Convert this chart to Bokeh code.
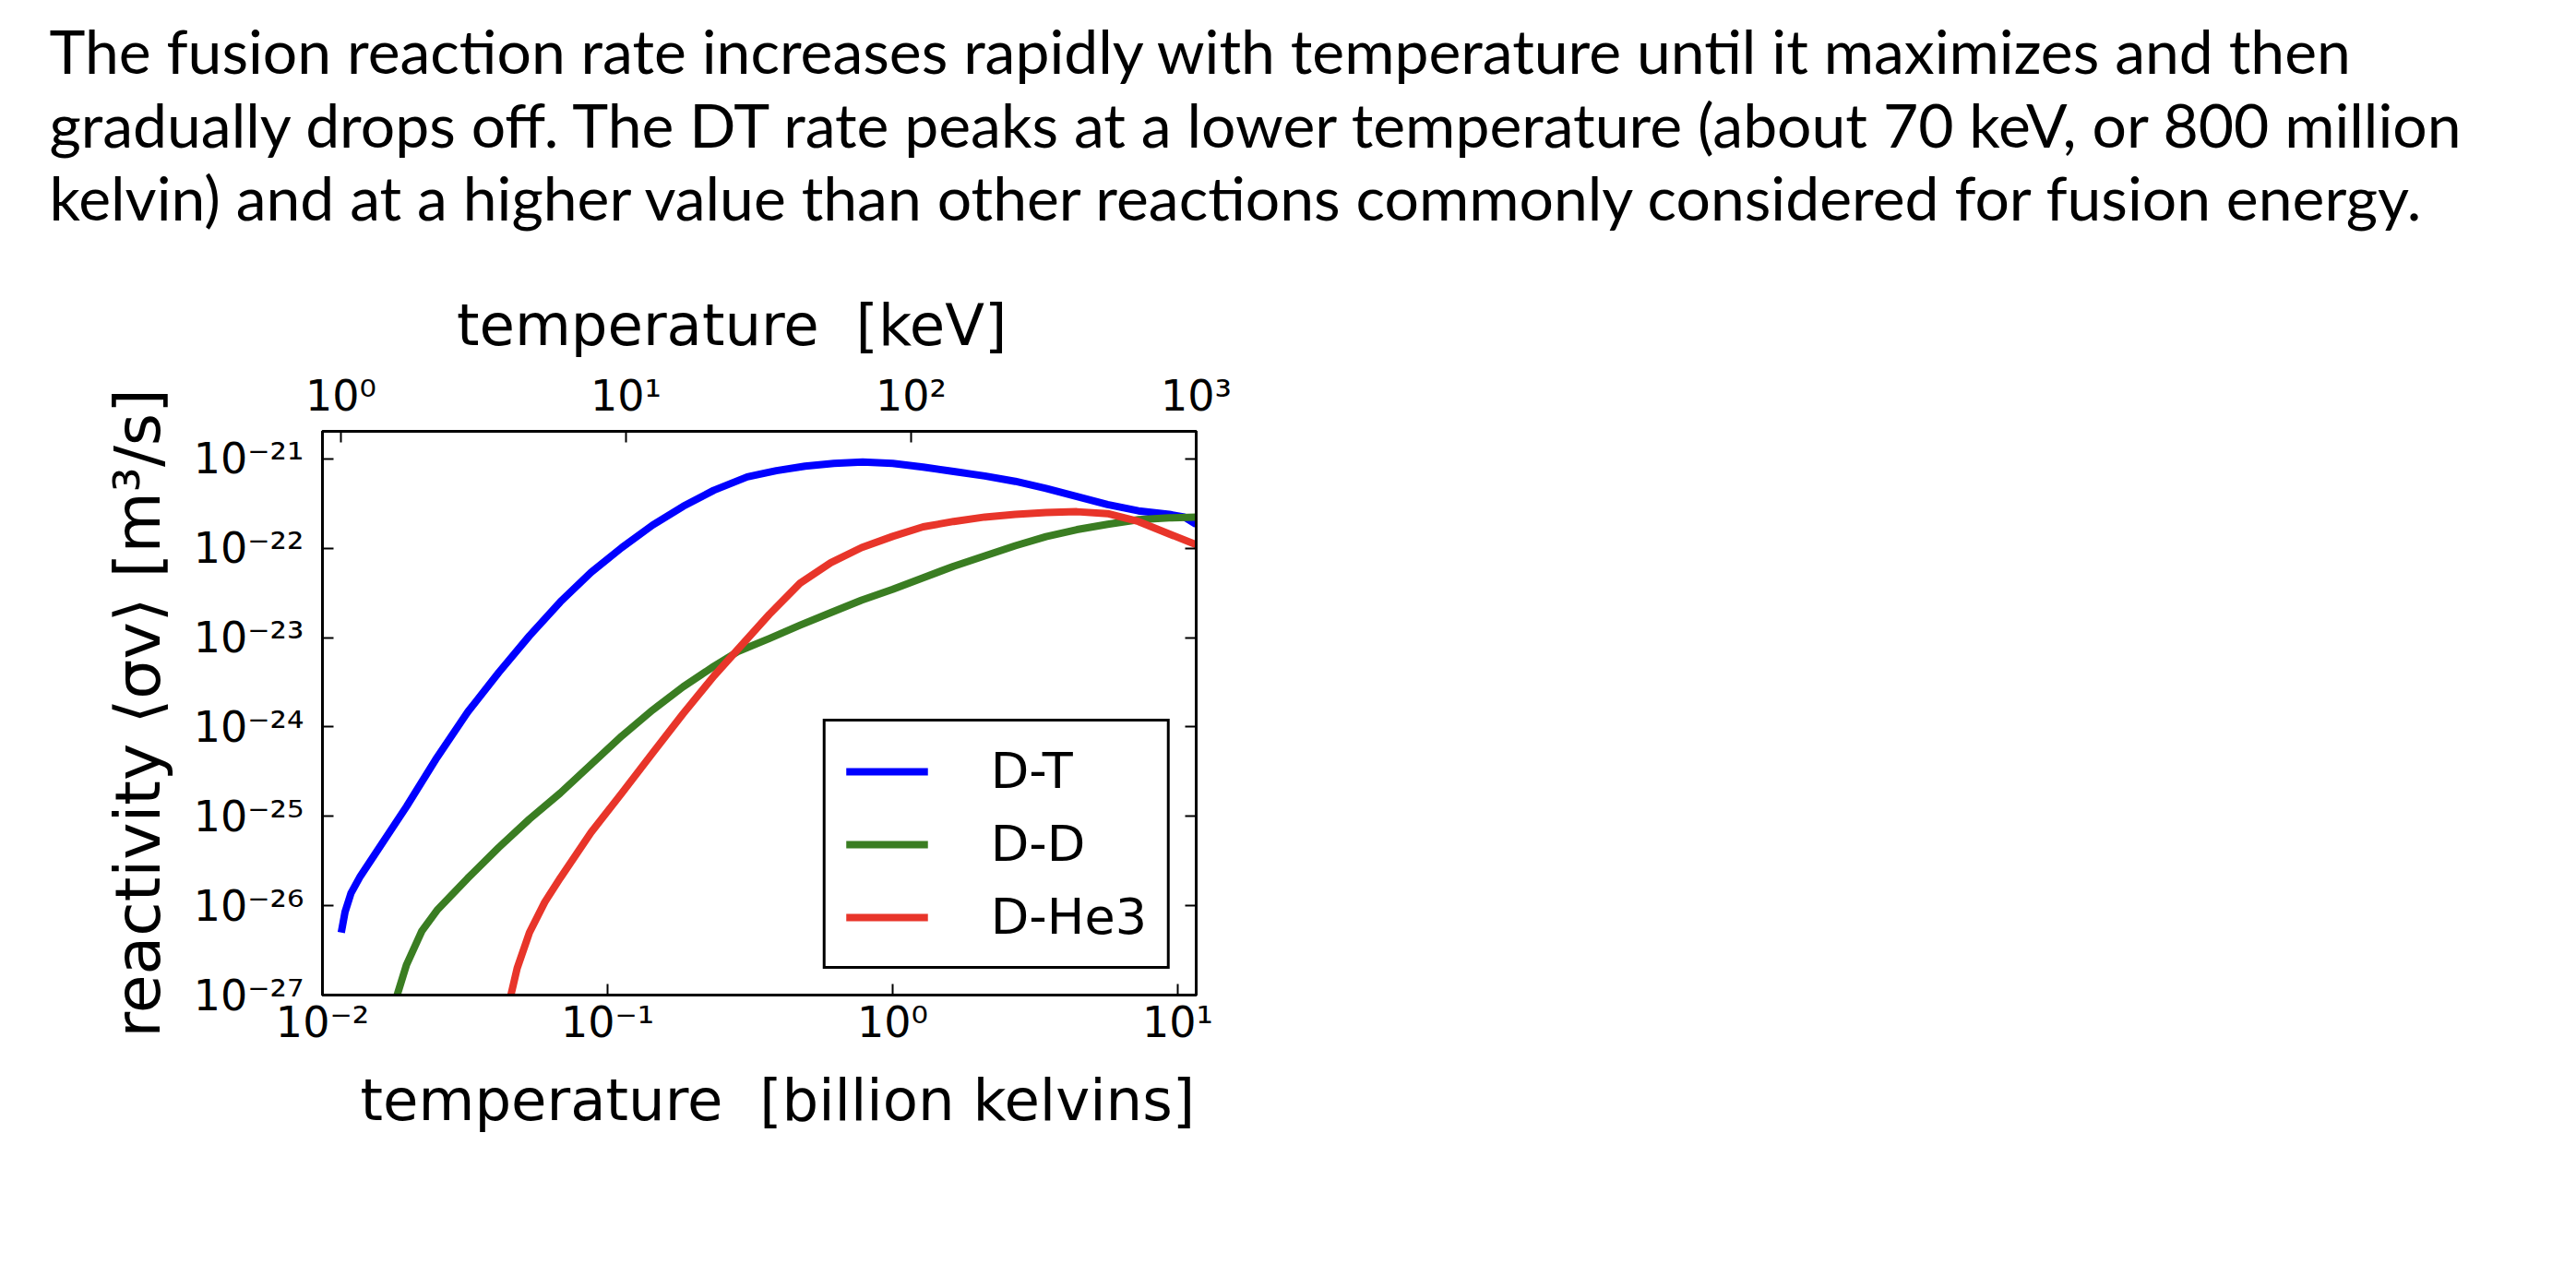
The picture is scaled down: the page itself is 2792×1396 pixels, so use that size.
from bokeh.plotting import figure
from bokeh.models import Range1d, LogAxis, FixedTicker, Legend, LegendItem, LogScale, Title
from bokeh.embed import file_html
from bokeh.resources import INLINE

# ---------------- data ----------------
caption_lines = [
    "The fusion reaction rate increases rapidly with temperature until it maximizes and then",
    "gradually drops off. The DT rate peaks at a lower temperature (about 70 keV, or 800 million",
    "kelvin) and at a higher value than other reactions commonly considered for fusion energy.",
]

series_names = ["D-T", "D-D", "D-He3"]

# temperature in billion kelvins, reactivity in m^3/s
temp_dt = [0.01164, 0.0120, 0.01259, 0.01358, 0.01538, 0.01972, 0.02523, 0.03236, 0.04150,
           0.05321, 0.06823, 0.08750, 0.1122, 0.1439, 0.1841, 0.2360, 0.309, 0.391, 0.493,
           0.622, 0.785, 1.0, 1.279, 1.637, 2.104, 2.692, 3.451, 4.426, 5.675, 7.278, 9.333,
           10.54, 11.6]
sv_dt = [5.0e-27, 8.5e-27, 1.38e-26, 2.14e-26, 3.89e-26, 1.29e-25, 4.57e-25, 1.48e-24, 4.07e-24,
         1.05e-23, 2.51e-23, 5.37e-23, 1.02e-22, 1.82e-22, 2.95e-22, 4.47e-22, 6.31e-22, 7.41e-22,
         8.32e-22, 8.91e-22, 9.23e-22, 8.91e-22, 8.13e-22, 7.24e-22, 6.46e-22, 5.62e-22, 4.68e-22,
         3.80e-22, 3.09e-22, 2.63e-22, 2.40e-22, 2.24e-22, 1.86e-22]

temp_dd = [0.01828, 0.01972, 0.02234, 0.02523, 0.03236, 0.0415, 0.05321, 0.06823, 0.0875,
           0.1122, 0.1439, 0.1841, 0.236, 0.2884, 0.369, 0.4732, 0.6067, 0.778, 1.0, 1.279,
           1.637, 2.104, 2.692, 3.451, 4.426, 5.675, 7.278, 9.333, 11.6]
sv_dd = [1.0e-27, 2.19e-27, 5.25e-27, 8.91e-27, 2.04e-26, 4.47e-26, 9.33e-26, 1.82e-25, 3.80e-25,
         7.94e-25, 1.55e-24, 2.82e-24, 4.79e-24, 7.08e-24, 9.77e-24, 1.38e-23, 1.91e-23, 2.63e-23,
         3.47e-23, 4.68e-23, 6.31e-23, 8.22e-23, 1.07e-22, 1.35e-22, 1.62e-22, 1.86e-22, 2.09e-22,
         2.19e-22, 2.24e-22]

temp_dhe3 = [0.04581, 0.04819, 0.05321, 0.06026, 0.06823, 0.0875, 0.1122, 0.1439, 0.1841, 0.236,
             0.2884, 0.369, 0.4732, 0.6067, 0.778, 1.0, 1.279, 1.637, 2.104, 2.692, 3.451, 4.426,
             5.675, 7.278, 9.333, 11.6]
sv_dhe3 = [1.0e-27, 2.0e-27, 5.0e-27, 1.10e-26, 2.04e-26, 6.61e-26, 1.82e-25, 5.13e-25, 1.41e-24,
           3.72e-24, 7.59e-24, 1.82e-23, 4.07e-23, 6.92e-23, 1.02e-22, 1.36e-22, 1.74e-22, 2.0e-22,
           2.24e-22, 2.40e-22, 2.51e-22, 2.57e-22, 2.45e-22, 2.0e-22, 1.45e-22, 1.10e-22]

x_ticks_bk = [0.01, 0.1, 1, 10]
x_tick_labels_bk = ["10\u207b\u00b2", "10\u207b\u00b9", "10\u2070", "10\u00b9"]
x_ticks_kev = [1, 10, 100, 1000]
x_tick_labels_kev = ["10\u2070", "10\u00b9", "10\u00b2", "10\u00b3"]
y_ticks = [1e-27, 1e-26, 1e-25, 1e-24, 1e-23, 1e-22, 1e-21]
y_tick_labels = ["10\u207b\u00b2\u2077", "10\u207b\u00b2\u2076", "10\u207b\u00b2\u2075",
                 "10\u207b\u00b2\u2074", "10\u207b\u00b2\u00b3", "10\u207b\u00b2\u00b2",
                 "10\u207b\u00b2\u00b9"]

BK_PER_KEV = 0.0116045  # billion kelvins per keV
x_min_bk, x_max_bk = 0.01, 11.6045
y_min, y_max = 1e-27, 2.04e-21

colors = ["#0000ff", "#3a7d22", "#e8352a"]

# ---------------- layout constants (pixels) ----------------
FRAME_LEFT, FRAME_TOP, FRAME_W, FRAME_H = 349, 467, 947, 611
CANVAS_W, CANVAS_H = 2792, 1396
frame_bottom = FRAME_TOP + FRAME_H
NBSP = "\u00a0"

p = figure(frame_width=FRAME_W, frame_height=FRAME_H, x_axis_type="log", y_axis_type="log",
           x_range=Range1d(x_min_bk, x_max_bk), y_range=Range1d(y_min, y_max),
           min_border_left=FRAME_LEFT, min_border_right=CANVAS_W - FRAME_LEFT - FRAME_W,
           min_border_top=FRAME_TOP, min_border_bottom=CANVAS_H - frame_bottom,
           title_location=None, output_backend="svg", toolbar_location=None)
p.grid.visible = False
p.outline_line_color = "black"
p.outline_line_width = 3
p.background_fill_color = "white"
p.border_fill_color = "white"

p.extra_x_ranges = {"kev": Range1d(x_min_bk / BK_PER_KEV, x_max_bk / BK_PER_KEV)}
p.extra_x_scales = {"kev": LogScale()}


def style_axis(ax, label_size="62.5px"):
    ax.axis_line_color = "black"
    ax.axis_line_width = 3
    ax.major_tick_in = 12
    ax.major_tick_out = 0
    ax.major_tick_line_width = 2
    ax.major_tick_line_color = "black"
    ax.minor_tick_line_color = None
    ax.major_label_text_font = "DejaVu Sans"
    ax.major_label_text_font_size = "46px"
    ax.major_label_text_color = "black"
    ax.axis_label_text_font = "DejaVu Sans"
    ax.axis_label_text_font_style = "normal"
    ax.axis_label_text_font_size = label_size
    ax.axis_label_text_color = "black"


bottom_ax = p.xaxis[0]
bottom_ax.ticker = FixedTicker(ticks=x_ticks_bk)
bottom_ax.major_label_overrides = dict(zip(x_ticks_bk, x_tick_labels_bk))
bottom_ax.axis_label = NBSP * 2 + "temperature " + NBSP + "[billion kelvins]"
style_axis(bottom_ax)
bottom_ax.major_label_standoff = 2
bottom_ax.axis_label_standoff = 18

left_ax = p.yaxis[0]
left_ax.ticker = FixedTicker(ticks=y_ticks)
left_ax.major_label_overrides = dict(zip(y_ticks, y_tick_labels))
left_ax.axis_label = "reactivity \u27e8\u03c3v\u27e9 [m\u00b3/s]"
style_axis(left_ax, "68px")
left_ax.major_label_standoff = 20
left_ax.axis_label_standoff = 18

top_ax = LogAxis(x_range_name="kev", ticker=FixedTicker(ticks=x_ticks_kev),
                 axis_label="temperature " + NBSP + "[keV]" + NBSP * 3)
top_ax.major_label_overrides = dict(zip(x_ticks_kev, x_tick_labels_kev))
style_axis(top_ax)
top_ax.major_label_standoff = 12
top_ax.axis_label_standoff = 10
p.add_layout(top_ax, "above")

right_ax = LogAxis(ticker=FixedTicker(ticks=y_ticks))
right_ax.major_label_overrides = {t: "" for t in y_ticks}
style_axis(right_ax)
p.add_layout(right_ax, "right")

renderers = []
for xs, ys, c in [(temp_dt, sv_dt, colors[0]), (temp_dd, sv_dd, colors[1]),
                  (temp_dhe3, sv_dhe3, colors[2])]:
    r = p.line(xs, ys, line_width=8, line_color=c, line_join="round")
    renderers.append(r)

legend = Legend(items=[LegendItem(label=n, renderers=[r]) for n, r in zip(series_names, renderers)],
                location="bottom_right")
legend.label_text_font = "DejaVu Sans"
legend.label_text_font_size = "54px"
legend.label_text_color = "black"
legend.glyph_width = 89
legend.glyph_height = 40
legend.label_standoff = 68
legend.padding = 22
legend.spacing = 16
legend.margin = 28
legend.border_line_color = "black"
legend.border_line_alpha = 1.0
legend.border_line_width = 3
legend.background_fill_color = "white"
legend.background_fill_alpha = 1.0
p.add_layout(legend)

# blank spacer between the top axis and the caption (white on white)
p.add_layout(Title(text=" ", standoff=0, text_font="DejaVu Sans", text_font_size="49px",
                   text_color="white"), "above")

# caption: one multi-line title, outermost in the top panel
caption_left = 53
p.add_layout(Title(text="\n".join(caption_lines), align="left", offset=caption_left - FRAME_LEFT,
                   standoff=0, text_font="Lato", text_font_size="66px",
                   text_font_style="normal", text_color="black", text_line_height=1.01),
             "above")

with open("out.html", "w") as f:
    f.write(file_html(p, INLINE))
